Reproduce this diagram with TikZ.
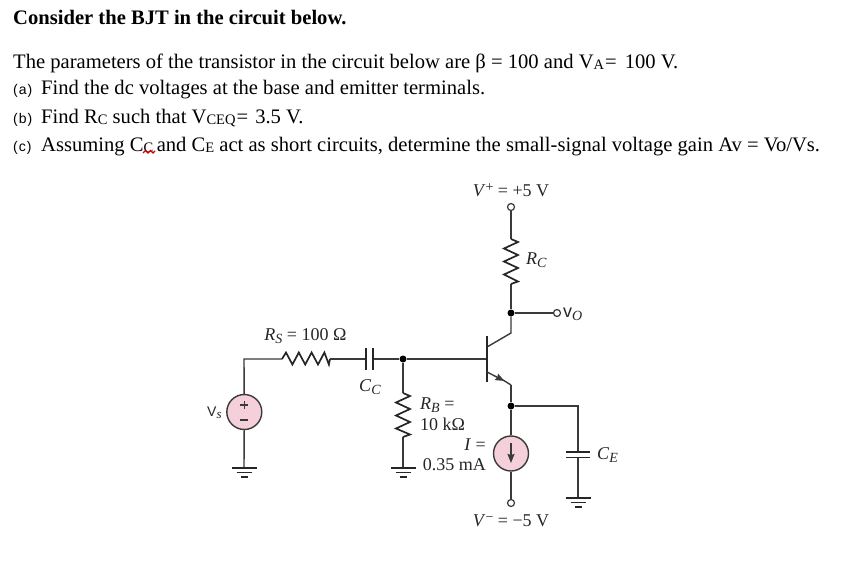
\documentclass[tikz,border=0pt]{standalone}
\usepackage{fontspec}
\setmainfont{Liberation Serif}
\setsansfont{Liberation Sans}
\usetikzlibrary{arrows.meta}
\definecolor{wire}{HTML}{3A3A3A}
\definecolor{pinkfill}{HTML}{F5CFDA}
\newcommand{\qtxt}[1]{\fontsize{20.6}{24}\selectfont #1}
\newcommand{\qsub}[1]{\raisebox{-1.5pt}{\fontsize{14.5}{16}\selectfont #1}}
\newcommand{\qlab}[1]{{\fontsize{14}{16}\selectfont\sffamily (\kern1pt #1\kern1pt)}}
\newcommand{\clab}[1]{\fontsize{18}{20}\selectfont #1}
\newcommand{\csub}[1]{\raisebox{-3pt}{\fontsize{14}{16}\selectfont\itshape #1}}
\tikzset{
  x=1pt,y=-1pt,
  wireline/.style={draw=wire,line width=1.4pt,line join=miter},
  zigline/.style={draw=black!85,line width=1.7pt,line join=miter},
  plate/.style={draw=black!85,line width=1.7pt},
  junction/.style={circle,fill=black,inner sep=0pt,minimum size=7pt},
  terminal/.style={circle,draw=wire,fill=white,line width=1.2pt,inner sep=0pt,minimum size=7pt},
  source/.style={circle,draw=wire,fill=pinkfill,line width=1.4pt,inner sep=0pt,minimum size=35pt},
  qline/.style={anchor=base west,inner sep=0pt,text=black},
  clabel/.style={inner sep=0pt,text=black!85},
}
\begin{document}
\begin{tikzpicture}
\useasboundingbox[fill=white] (0,0) rectangle (854,586);
% question text
\node[qline] (t0) at (13,25) {\qtxt{\bfseries Consider the BJT in the circuit below.}};
\node[qline] (t1) at (13,68) {\qtxt{The parameters of the transistor in the circuit below are β = 100 and V\qsub{A}\kern1pt=\kern3pt{} 100 V.}};
\node[qline] (t2a) at (13,95) {\qlab{a}};
\node[qline] (t2) at (41,95) {\qtxt{Find the dc voltages at the base and emitter terminals.}};
\node[qline] (t3a) at (13,123) {\qlab{b}};
\node[qline] (t3) at (41,123) {\qtxt{Find R\qsub{C} such that V\qsub{CEQ}\kern1pt=\kern2pt{} 3.5 V.}};
\node[qline] (t4a) at (13,151) {\qlab{c}};
\node[qline] (t4) at (41,151) {\qtxt{Assuming C\qsub{C}\,and C\qsub{E} act as short circuits, determine the small-signal voltage gain Av = Vo/Vs.}};
\draw[red!80!black,line width=1.1pt] (143,153) -- (145.5,150.5) -- (148,153) -- (150.5,150.5) -- (153,153) -- (155,151);

% named points
\coordinate (vsTop) at (244,359);
\coordinate (rsL) at (282,359);
\coordinate (rsR) at (330,359);
\coordinate (ccL) at (365.5,359);
\coordinate (ccR) at (372.5,359);
\coordinate (rbT) at (403,393);
\coordinate (rbB) at (403,437);
\coordinate (gndS) at (244,468);
\coordinate (gndB) at (403,468);
\coordinate (baseIn) at (487,359);
\coordinate (cBar) at (487,347);
\coordinate (eBar) at (487,372);
\coordinate (cKnee) at (511,333);
\coordinate (eKnee) at (511,385);
\coordinate (rcT) at (511,239);
\coordinate (rcB) at (511,284);
\coordinate (ceR) at (578,406);
\coordinate (cep1) at (578,451.5);
\coordinate (cep2) at (578,457.5);
\coordinate (gndE) at (578,498);

% nodes
\node[source] (vs) at (244.3,412) {};
\node[source] (isrc) at (511,453.5) {};
\node[junction] (jb) at (403,359) {};
\node[junction] (jc) at (511,313) {};
\node[junction] (je) at (511,406) {};
\node[terminal] (tp) at (511,207) {};
\node[terminal] (tn) at (511,503) {};
\node[terminal] (tv) at (557,313) {};

% wires
\draw[wireline] (vs) -- (vsTop) -- (rsL);
\draw[wireline] (rsR) -- (ccL);
\draw[wireline] (ccR) -- (jb);
\draw[wireline] (jb) -- (baseIn);
\draw[wireline] (jb) -- (rbT);
\draw[wireline] (rbB) -- (gndB);
\draw[wireline] (vs) -- (gndS);
\draw[wireline] (tp) -- (rcT);
\draw[wireline] (rcB) -- (jc);
\draw[wireline] (jc) -- (tv);
\draw[wireline] (jc) -- (cKnee) -- (cBar);
\draw[wireline] (eKnee) -- (je);
\draw[wireline] (je) -- (isrc);
\draw[wireline] (isrc) -- (tn);
\draw[wireline] (je) -- (ceR) -- (cep1);
\draw[wireline] (cep2) -- (gndE);

% transistor
\draw[plate,line width=2.2pt] (487.3,336) -- (487.3,382);
\draw[wireline,-{Stealth[length=9pt,width=7pt,inset=1pt]}] (eBar) -- (504.5,381);
\draw[wireline] (503,380) -- (eKnee);

% resistors
\draw[zigline] (rsL) -- ++(4,-6.5) -- ++(6.4,12) -- ++(6.4,-12) -- ++(6.4,12) -- ++(6.4,-12) -- ++(6.4,12) -- ++(6.4,-12) -- ++(4.5,12) -- (rsR);
\draw[zigline] (rbT) -- ++(7,3) -- ++(-14,6.5) -- ++(14,6.5) -- ++(-14,6.5) -- ++(14,6.5) -- ++(-14,6.5) -- ++(14,6) -- (rbB);
\draw[zigline] (rcT) -- ++(7,3) -- ++(-14,6.5) -- ++(14,6.5) -- ++(-14,6.5) -- ++(14,6.5) -- ++(-14,6.5) -- ++(14,7) -- (rcB);

% capacitors
\draw[plate] (365.7,348) -- (365.7,370);
\draw[plate] (372.7,348) -- (372.7,370);
\draw[plate] (566,451.7) -- (590,451.7);
\draw[plate] (566,457.5) -- (590,457.5);

% grounds
\foreach \g in {gndS,gndB,gndE}{
  \draw[plate,line width=1.5pt] ([xshift=-12.5pt]\g) -- ([xshift=12.5pt]\g);
  \draw[plate,line width=1.5pt] ([xshift=-7.5pt,yshift=-4.5pt]\g) -- ([xshift=7.5pt,yshift=-4.5pt]\g);
  \draw[plate,line width=1.5pt] ([xshift=-3.5pt,yshift=-9pt]\g) -- ([xshift=3.5pt,yshift=-9pt]\g);
}

% source marks
\draw[wire,line width=1.2pt] (240.3,405) -- (248.3,405) (244.3,401) -- (244.3,409);
\draw[wire,line width=1.2pt] (240.3,420) -- (248.3,420);
\draw[wireline,-{Stealth[length=9pt,width=7pt,inset=1pt]}] (511,443) -- (511,463);

% labels
\node[clabel,anchor=base] (lvp) at (511,196) {\clab{\textit{V}\raisebox{5pt}{\fontsize{14}{14}\selectfont +} = +5 V}};
\node[clabel,anchor=base west] (lrc) at (526,264) {\clab{\textit{R}\csub{C}}};
\node[clabel,anchor=base west] (lvo) at (563,317) {\clab{{\sffamily v}\csub{O}}};
\node[clabel,anchor=base] (lrs) at (305.5,340) {\clab{\textit{R}\csub{S} = 100 Ω}};
\node[clabel,anchor=base] (lcc) at (370,391) {\clab{\textit{C}\csub{C}}};
\node[clabel,anchor=base west] (lvs) at (207,416) {{\fontsize{14}{14}\selectfont\sffamily V}\raisebox{-2pt}{\fontsize{13}{14}\selectfont\itshape s}};
\node[clabel,anchor=base west] (lrb) at (420,409) {\clab{\textit{R}\csub{B} =}};
\node[clabel,anchor=base west] (lrb2) at (420,430) {\clab{10 kΩ}};
\node[clabel,anchor=base east] (li) at (486,450) {\clab{\textit{I} =}};
\node[clabel,anchor=base east] (li2) at (486,470) {\clab{0.35 mA}};
\node[clabel,anchor=base west] (lce) at (597,459) {\clab{\textit{C}\csub{E}}};
\node[clabel,anchor=base] (lvn) at (511,526) {\clab{\textit{V}\raisebox{5pt}{\fontsize{14}{14}\selectfont −} = −5 V}};
\end{tikzpicture}
\end{document}
